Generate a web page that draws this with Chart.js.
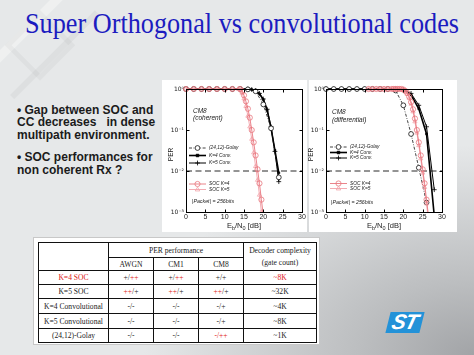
<!DOCTYPE html>
<html>
<head>
<meta charset="utf-8">
<script src="https://cdn.jsdelivr.net/npm/chart.js@4.4.1/dist/chart.umd.min.js"></script>
<style>
html,body{margin:0;padding:0}
body{width:474px;height:355px;overflow:hidden;position:relative;
 background: radial-gradient(ellipse 330px 210px at 474px 355px, #a2a4a7 0%, #bcbec0 35%, rgba(230,232,233,0) 100%), #e6e8e9;}
.deco{position:absolute;transform-origin:0 0;}
#title{position:absolute;left:25px;top:9px;font-family:"Liberation Serif","Times New Roman",serif;font-size:29px;line-height:29px;color:#1c1cc0;white-space:nowrap;transform-origin:0 0;}
#bullets{position:absolute;left:17px;top:103.5px;font-family:"Liberation Sans",Arial,sans-serif;font-weight:bold;font-size:12px;line-height:12.6px;color:#1b1b1b;white-space:pre;}
#bullets p{margin:0}
#bullets p+p{margin-top:9.8px}
.panel{position:absolute;background:#fff;top:80px;height:152px}
.cv{position:absolute;top:80px}
#tw{position:absolute;left:33px;top:237px;width:287px;height:108px;background:#fff;border:1px solid #c8c8c8;box-sizing:border-box}
table{position:absolute;left:4px;top:4px;border-collapse:collapse;table-layout:fixed;width:278px;font-family:"Liberation Serif","Times New Roman",serif;font-size:7.6px;color:#222;border:1.3px solid #000}
td{border:1px solid #111;text-align:center;padding:0;line-height:9px;overflow:hidden;white-space:nowrap}
.r{color:#e01818}
#logo{position:absolute;left:388px;top:312px;width:34px;height:21px;background:#2392d8;transform:skewX(-14deg);overflow:hidden}
#logo span{position:absolute;left:4px;top:-3px;font:bold italic 21px/26px "Liberation Sans",Arial,sans-serif;color:#fff;letter-spacing:-1px}
</style>
</head>
<body>
<div class="deco" style="left:-10px;top:60px;width:110px;height:9px;background:rgba(255,255,255,0.35);transform:rotate(-45deg)"></div>
<div class="deco" style="left:10px;top:95px;width:120px;height:6px;background:rgba(0,0,0,0.035);transform:rotate(-45deg)"></div>
<div class="deco" style="left:40px;top:10px;width:40px;height:40px;border:5px solid rgba(0,0,0,0.03);transform:rotate(45deg)"></div>

<div id="title">Super Orthogonal vs convolutional codes</div>

<div id="bullets"><p>• Gap between SOC and
CC decreases   in dense
multipath environment.</p><p>• SOC performances for
non coherent Rx ?</p></div>

<div class="panel" style="left:162px;width:145px"></div>
<div class="panel" style="left:309px;width:148px"></div>
<canvas id="c1" class="cv" width="146" height="152" style="left:162px"></canvas>
<canvas id="c2" class="cv" width="150" height="152" style="left:307px"></canvas>

<div id="tw">
<table>
<colgroup><col style="width:70px"><col style="width:45px"><col style="width:45px"><col style="width:45px"><col style="width:73px"></colgroup>
<tr style="height:15px"><td rowspan="2"></td><td colspan="3">PER performance</td><td rowspan="2" style="line-height:12px">Decoder complexity<br>(gate count)</td></tr>
<tr style="height:13px"><td>AWGN</td><td>CM1</td><td>CM8</td></tr>
<tr style="height:14px"><td class="r">K=4 SOC</td><td>+/<span class="r">++</span></td><td>+/<span class="r">++</span></td><td>+/+</td><td class="r">~8K</td></tr>
<tr style="height:14px"><td>K=5 SOC</td><td><span class="r">++</span>/+</td><td><span class="r">++</span>/+</td><td><span class="r">++</span>/+</td><td>~32K</td></tr>
<tr style="height:15px"><td>K=4 Convolutional</td><td>-/-</td><td>-/-</td><td>-/+</td><td>~4K</td></tr>
<tr style="height:15px"><td>K=5 Convolutional</td><td>-/-</td><td>-/-</td><td>-/+</td><td>~8K</td></tr>
<tr style="height:14px"><td>(24,12)-Golay</td><td>-/-</td><td>-/-</td><td class="r">-/++</td><td>~1K</td></tr>
</table>
</div>

<div id="logo"><span>ST</span></div>

<script>
// ---------- axis ticks ----------
const xTicks = [0, 5, 10, 15, 20, 25, 30];
const yTicks = [1e-3, 1e-2, 1e-1, 1];
const yTickLabels = ['10\u207B\u00B3', '10\u207B\u00B2', '10\u207B\u00B9', '10\u2070'];

// ---------- plot 1 : CM8 (coherent) ----------
const c1GolayX = [0, 2, 4, 6, 8, 10, 12, 14, 16, 18, 20, 22, 24];
const c1GolayY = [1, 1, 1, 1, 1, 1, 1, 1, 0.98, 0.88, 0.42, 0.11, 0.007];
const c1K4X = [0, 2, 4, 6, 8, 10, 12, 14, 16, 17, 18, 19, 20, 21, 22, 23, 24];
const c1K4Y = [1, 1, 1, 1, 1, 1, 1, 1, 1, 0.97, 0.9, 0.76, 0.55, 0.3, 0.11, 0.032, 0.009];
const c1K5X = [0, 2, 4, 6, 8, 10, 12, 14, 16, 17, 18, 19, 20, 21, 22, 23, 24];
const c1K5Y = [1, 1, 1, 1, 1, 1, 1, 1, 1, 0.97, 0.91, 0.78, 0.57, 0.32, 0.12, 0.03, 0.0055];
const c1S4X = [0, 2, 4, 6, 8, 10, 12, 14, 14.5, 15, 15.5, 16, 16.5, 17, 17.5, 18, 18.5, 19, 19.5, 20];
const c1S4Y = [1, 1, 1, 1, 1, 1, 1, 1, 0.9, 0.7, 0.5, 0.33, 0.2, 0.1, 0.05, 0.024, 0.011, 0.005, 0.002, 0.0008];
const c1S5X = [0, 2, 4, 6, 8, 10, 12, 13.5, 14, 14.5, 15, 15.5, 16, 16.5, 17, 17.5, 18, 18.5, 19, 19.5];
const c1S5Y = [1, 1, 1, 1, 1, 1, 1, 1, 0.95, 0.8, 0.58, 0.38, 0.22, 0.12, 0.06, 0.028, 0.013, 0.006, 0.0026, 0.001];

// ---------- plot 2 : CM8 (differential) ----------
const c2GolayX = [0, 2, 4, 6, 8, 10, 12, 14, 16, 18, 20, 22, 24, 26];
const c2GolayY = [1, 1, 1, 1, 1, 1, 1, 1, 1, 0.92, 0.4, 0.08, 0.012, 0.0017];
const c2K4X = [0, 2, 4, 6, 8, 10, 12, 14, 16, 18, 20, 22, 24, 26, 28];
const c2K4Y = [1, 1, 1, 1, 1, 1, 1, 1, 1, 1, 0.95, 0.72, 0.33, 0.08, 0.0008];
const c2K5X = [0, 2, 4, 6, 8, 10, 12, 14, 16, 18, 20, 22, 24, 26, 28];
const c2K5Y = [1, 1, 1, 1, 1, 1, 1, 1, 1, 1, 0.97, 0.78, 0.4, 0.12, 0.0035];
const c2S4X = [11, 12, 13, 14, 15, 16, 17, 17.5, 18, 18.5, 19, 19.5, 20, 20.5, 21, 21.5, 22, 22.5, 23, 23.5, 24, 24.5, 25, 25.5, 26, 26.5];
const c2S4Y = [1, 1, 1, 1, 1, 1, 1, 1, 1, 1, 1, 1, 0.97, 0.9, 0.8, 0.65, 0.48, 0.32, 0.19, 0.1, 0.05, 0.024, 0.011, 0.005, 0.002, 0.0008];
const c2S5X = [11, 12, 13, 14, 15, 16, 17, 17.5, 18, 18.5, 19, 19.5, 20, 20.5, 21, 21.5, 22, 22.5, 23, 23.5, 24, 24.5, 25, 25.5, 26, 26.5];
const c2S5Y = [1, 1, 1, 1, 1, 1, 1, 1, 1, 1, 1, 0.98, 0.95, 0.87, 0.75, 0.6, 0.43, 0.28, 0.16, 0.085, 0.042, 0.02, 0.009, 0.004, 0.0016, 0.0006];

// ---------- reference PER line ----------
const refX = [0, 30];
const refY = [0.01, 0.01];

// ---------- labels ----------
const labGolay = '(24,12)-Golay', labK4 = 'K=4 Conv.', labK5 = 'K=5 Conv.', labS4 = 'SOC K=4', labS5 = 'SOC K=5';

// ---------- styles ----------
const CLIP = {left: 4, top: 4, right: 4, bottom: 0};
const stGolay = {borderColor:'#111', borderWidth:0.8, borderDash:[3,1.5,0.8,1.5], pointStyle:'circle', pointRadius:2.4, pointBackgroundColor:'#fff', pointBorderColor:'#111', pointBorderWidth:0.8};
const stK4 = {borderColor:'#000', borderWidth:1.6, pointStyle:'rect', pointRadius:1.4, pointBackgroundColor:'#000', pointBorderColor:'#000', pointBorderWidth:0.5};
const stK5 = {borderColor:'#000', borderWidth:1, pointStyle:'cross', pointRadius:2.4, pointBackgroundColor:'#000', pointBorderColor:'#000', pointBorderWidth:0.8};
const stS4 = {borderColor:'#e8767e', borderWidth:0.9, pointStyle:'circle', pointRadius:2.6, pointBackgroundColor:'rgba(255,255,255,0)', pointBorderColor:'#e8767e', pointBorderWidth:0.8};
const stS5 = {borderColor:'#f2a3aa', borderWidth:0.9, pointStyle:'triangle', pointRadius:2.4, pointBackgroundColor:'rgba(255,255,255,0)', pointBorderColor:'#f2a3aa', pointBorderWidth:0.8};
const stRef = {borderColor:'#111', borderWidth:0.9, borderDash:[6,3.5], pointRadius:0};

function ser(label, xs, ys, st){
  return Object.assign({label, data: xs.map((x,i)=>({x, y: ys[i]})), fill:false, tension:0, clip: CLIP}, st);
}

function marker(ctx, style, x, y, r){
  ctx.beginPath();
  if (style === 'circle'){ ctx.arc(x,y,r,0,Math.PI*2); ctx.fill(); ctx.stroke(); }
  else if (style === 'rect'){ ctx.rect(x-r,y-r,2*r,2*r); ctx.fill(); ctx.stroke(); }
  else if (style === 'cross'){ ctx.moveTo(x-r,y); ctx.lineTo(x+r,y); ctx.moveTo(x,y-r); ctx.lineTo(x,y+r); ctx.stroke(); }
  else if (style === 'triangle'){ ctx.moveTo(x,y-r); ctx.lineTo(x+r*0.95,y+r*0.6); ctx.lineTo(x-r*0.95,y+r*0.6); ctx.closePath(); ctx.fill(); ctx.stroke(); }
}

function makeOverlay(cfg){
  return {
    id: 'overlay',
    afterDraw(chart){
      const ctx = chart.ctx, a = chart.chartArea, xs = chart.scales.x, ys = chart.scales.y;
      ctx.save();
      // frame
      ctx.strokeStyle = '#000'; ctx.lineWidth = 1; ctx.setLineDash([]);
      const L = Math.round(a.left)+0.5, T = Math.round(a.top)+0.5, R = Math.round(a.right)+0.5, B = Math.round(a.bottom)+0.5;
      ctx.strokeRect(L, T, R-L, B-T);
      // inward ticks
      ctx.beginPath();
      xTicks.forEach(v => { const px = Math.round(xs.getPixelForValue(v))+0.5; ctx.moveTo(px,B); ctx.lineTo(px,B-3); ctx.moveTo(px,T); ctx.lineTo(px,T+3); });
      yTicks.forEach(v => { const py = Math.round(ys.getPixelForValue(v))+0.5; ctx.moveTo(L,py); ctx.lineTo(L+3,py); ctx.moveTo(R,py); ctx.lineTo(R-3,py); });
      ctx.stroke();
      // annotation texts
      ctx.fillStyle = '#222'; ctx.textBaseline = 'middle'; ctx.textAlign = 'left';
      cfg.texts.forEach(t => { ctx.font = 'italic ' + t.size + 'px "Liberation Sans", Arial, sans-serif'; ctx.fillText(t.t, a.left + t.dx, a.top + t.dy); });
      // legend
      const lg = cfg.legend;
      lg.rows.forEach(([label, dy]) => {
        const ds = chart.data.datasets.find(d => d.label === label);
        const y = a.top + dy, x0 = a.left + lg.x0, x1 = a.left + lg.x1;
        ctx.strokeStyle = ds.borderColor; ctx.lineWidth = ds.borderWidth;
        ctx.setLineDash(ds.borderDash || []);
        ctx.beginPath(); ctx.moveTo(x0,y); ctx.lineTo(x1,y); ctx.stroke();
        ctx.setLineDash([]);
        ctx.fillStyle = ds.pointBackgroundColor; ctx.strokeStyle = ds.pointBorderColor; ctx.lineWidth = ds.pointBorderWidth;
        marker(ctx, ds.pointStyle, (x0+x1)/2, y, ds.pointRadius);
        ctx.fillStyle = '#222';
        ctx.font = 'italic ' + lg.size + 'px "Liberation Sans", Arial, sans-serif';
        ctx.fillText(label, a.left + lg.tx, y);
      });
      // x title with subscripts
      const parts = cfg.xTitle, mainF = '7.5px "Liberation Sans", Arial, sans-serif', subF = '5.5px "Liberation Sans", Arial, sans-serif';
      let tot = 0;
      parts.forEach(([s, sub]) => { ctx.font = sub ? subF : mainF; tot += ctx.measureText(s).width; });
      let cx = (a.left + a.right)/2 - tot/2; const ty = a.bottom + 14;
      ctx.fillStyle = '#222';
      parts.forEach(([s, sub]) => { ctx.font = sub ? subF : mainF; ctx.fillText(s, cx, ty + (sub ? 2 : 0)); cx += ctx.measureText(s).width; });
      // y title
      ctx.translate(a.left - 15, (a.top + a.bottom)/2 + 4);
      ctx.rotate(-Math.PI/2);
      ctx.textAlign = 'center';
      ctx.font = '6.5px "Liberation Sans", Arial, sans-serif';
      ctx.fillText('PER', 0, 0);
      ctx.restore();
    }
  };
}

function yLabel(v){
  for (let i = 0; i < yTicks.length; i++) if (Math.abs(Math.log10(v) - Math.log10(yTicks[i])) < 1e-6) return yTickLabels[i];
  return '';
}

function makeChart(id, datasets, cfg){
  return new Chart(document.getElementById(id), {
    type: 'line',
    data: { datasets },
    options: {
      responsive: false, animation: false, devicePixelRatio: 1,
      layout: { padding: cfg.pad },
      plugins: { legend: { display: false }, tooltip: { enabled: false } },
      scales: {
        x: { type: 'linear', min: 0, max: 30,
             afterBuildTicks: s => { s.ticks = xTicks.map(v => ({value: v})); },
             afterFit: s => { s.height = cfg.xh; },
             grid: { display: false, drawTicks: false, tickLength: 0 }, border: { display: false },
             ticks: { padding: 1, font: { size: 7, family: '"Liberation Sans", Arial, sans-serif' }, color: '#222', maxRotation: 0, autoSkip: false } },
        y: { type: 'logarithmic', min: 1e-3, max: 1,
             afterBuildTicks: s => { s.ticks = yTicks.map(v => ({value: v})); },
             afterFit: s => { s.width = cfg.yw; },
             grid: { display: false, drawTicks: false, tickLength: 0 }, border: { display: false },
             ticks: { padding: 2, font: { size: 6, family: '"DejaVu Sans", sans-serif' }, color: '#222', autoSkip: false, callback: v => yLabel(v) } }
      }
    },
    plugins: [makeOverlay(cfg)]
  });
}

// dataset 0 is drawn on top in Chart.js
makeChart('c1', [
  ser(labS4, c1S4X, c1S4Y, stS4),
  ser(labS5, c1S5X, c1S5Y, stS5),
  ser(labGolay, c1GolayX, c1GolayY, stGolay),
  ser(labK5, c1K5X, c1K5Y, stK5),
  ser(labK4, c1K4X, c1K4Y, stK4),
  ser('PER ref', refX, refY, stRef)
], {
  pad: { left: 0, right: 6, top: 9, bottom: 0 }, yw: 24, xh: 20,
  texts: [ {t:'CM8', dx:7, dy:22, size:6.5}, {t:'(coherent)', dx:7, dy:29.5, size:6.5}, {t:'|Packet| = 256bits', dx:6, dy:113, size:5.3} ],
  legend: { x0:3, x1:20, tx:23, size:4.8, rows: [[labGolay,59],[labK4,66.5],[labK5,74],[labS4,95],[labS5,100.5]] },
  xTitle: [['E',0],['b',1],['/N',0],['0',1],[' [dB]',0]]
});

makeChart('c2', [
  ser(labS4, c2S4X, c2S4Y, stS4),
  ser(labS5, c2S5X, c2S5Y, stS5),
  ser(labGolay, c2GolayX, c2GolayY, stGolay),
  ser(labK5, c2K5X, c2K5Y, stK5),
  ser(labK4, c2K4X, c2K4Y, stK4),
  ser('PER ref', refX, refY, stRef)
], {
  pad: { left: 0, right: 15, top: 9, bottom: 0 }, yw: 19, xh: 20,
  texts: [ {t:'CM8', dx:6, dy:23, size:6.5}, {t:'(differential)', dx:6, dy:31, size:6.5}, {t:'|Packet| = 256bits', dx:5, dy:114, size:5.3} ],
  legend: { x0:4, x1:21, tx:24, size:4.8, rows: [[labGolay,58],[labK4,63.5],[labK5,69],[labS4,94.5],[labS5,99.5]] },
  xTitle: [['E',0],['b',1],['/N',0],['0',1],[' [dB]',0]]
});

// fit title width to the slide
const tEl = document.getElementById('title');
const tw = tEl.getBoundingClientRect().width;
tEl.style.transform = 'scaleX(' + (434 / tw) + ')';
</script>
</body>
</html>
